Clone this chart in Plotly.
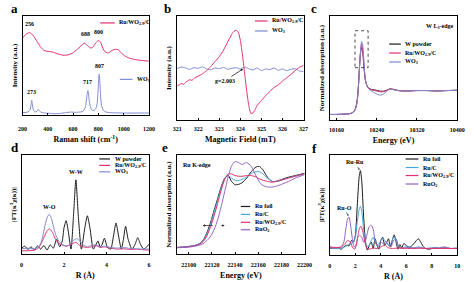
import plotly.graph_objects as go

FONT = "Liberation Serif, Times New Roman, serif"
PINK = "#E3306E"
WO3C = "#7F8ACF"
BLACK = "#1c1c1c"
RUC = "#47A7DB"
RUO2 = "#9064C2"

RUWO = "Ru/WO<sub>2.9</sub>/C"
WO3 = "WO<sub>3</sub>"

# ---------------- panel a : Raman ----------------
a_ru_x = [200, 215, 230, 245, 256, 270, 290, 315, 340, 365, 392, 420, 444, 480, 520, 560, 597, 630, 662, 675, 688, 705, 720, 740, 755, 775, 790, 803, 818, 835, 854, 879, 905, 931, 956, 980, 1008, 1040, 1085, 1140, 1200]
a_ru_y = [235, 242, 248, 251, 252, 249, 240, 225, 210, 199, 195, 194, 192, 187, 183, 184, 190, 200, 211, 217, 220, 216, 210, 205, 207, 218, 225, 228, 222, 205, 193, 190, 197, 201, 200, 190, 181, 175, 170, 167, 165]
a_wo_x = [200, 230, 250, 260, 266, 270, 273, 276, 281, 290, 300, 315, 325, 335, 350, 380, 420, 460, 500, 540, 580, 620, 650, 670, 685, 695, 703, 710, 714, 717, 720, 724, 730, 740, 752, 765, 780, 790, 797, 802, 805, 807, 809, 812, 817, 825, 840, 860, 900, 1000, 1100, 1200]
a_wo_y = [7, 8, 11, 16, 27, 38, 45, 38, 24, 12, 9, 12, 17, 12, 8, 6, 5, 4, 5, 7, 9, 8, 9, 10, 14, 22, 38, 60, 72, 75, 72, 58, 38, 22, 14, 14, 20, 35, 70, 108, 122, 125, 120, 100, 62, 30, 14, 9, 7, 6, 6, 6]
a_peak_x = [256, 700, 803, 272, 716, 808]
a_peak_y = [262, 232, 238, 55, 86, 136]
a_peak_t = ["256", "688", "800", "273", "717", "807"]

# ---------------- panel b : EPR ----------------
b_ru_x = [321.0, 321.1, 321.2, 321.3, 321.4, 321.5, 321.6, 321.7, 321.8, 321.9, 322.0, 322.2, 322.4, 322.6, 322.8, 323.0, 323.2, 323.4, 323.5, 323.6, 323.7, 323.8, 323.9, 324.0, 324.1, 324.2, 324.3, 324.4, 324.5, 324.6, 324.7, 324.8, 325.0, 325.2, 325.4, 325.6, 325.8, 326.0, 326.2, 326.4, 326.6, 326.8, 327.0]
b_ru_y = [105, 108, 112, 110, 116, 120, 124, 122, 128, 132, 135, 142, 152, 165, 180, 195, 215, 240, 252, 265, 273, 276, 270, 245, 200, 145, 90, 45, 20, 22, 32, 45, 60, 75, 88, 100, 108, 120, 130, 140, 152, 162, 168]
b_wo_x = [321.0, 321.2, 321.4, 321.6, 321.8, 322.0, 322.2, 322.4, 322.6, 322.8, 323.0, 323.2, 323.4, 323.6, 323.8, 324.0, 324.2, 324.4, 324.6, 324.8, 325.0, 325.2, 325.4, 325.6, 325.8, 326.0, 326.2, 326.4, 326.6, 326.8, 327.0]
b_wo_y = [158, 163, 160, 156, 161, 159, 163, 157, 155, 160, 158, 162, 156, 159, 161, 157, 163, 158, 154, 160, 152, 157, 155, 160, 153, 157, 152, 156, 158, 151, 149]

# ---------------- panel c : W L3-edge XANES ----------------
c_x = [10147, 10160, 10175, 10185, 10190, 10194, 10197, 10200, 10202, 10204, 10206, 10208, 10210, 10212, 10214, 10216, 10218, 10221, 10225, 10230, 10236, 10242, 10248, 10254, 10260, 10266, 10272, 10280, 10290, 10305, 10320, 10340, 10360, 10380, 10400]
c_w = [17, 17, 18, 19, 21, 25, 32, 48, 70, 110, 165, 205, 222, 212, 175, 140, 118, 104, 97, 93, 92, 90, 88, 88, 91, 95, 94, 91, 89, 89, 90, 90, 89, 90, 91]
c_ru = [17, 17, 18, 19, 21, 25, 31, 46, 68, 108, 165, 210, 233, 222, 185, 145, 120, 104, 96, 92, 90, 88, 86, 87, 90, 95, 94, 91, 89, 89, 90, 90, 89, 90, 91]
c_wo = [17, 17, 18, 19, 21, 24, 30, 44, 65, 105, 160, 212, 240, 232, 195, 150, 120, 102, 94, 88, 83, 78, 76, 80, 88, 94, 93, 90, 89, 89, 90, 90, 89, 90, 91]

# ---------------- panel d : W EXAFS ----------------
d_w_x = [0.0, 0.15, 0.3, 0.45, 0.6, 0.75, 0.9, 1.05, 1.2, 1.35, 1.5, 1.65, 1.8, 1.92, 2.0, 2.1, 2.2, 2.33, 2.45, 2.56, 2.67, 2.82, 2.98, 3.1, 3.22, 3.38, 3.5, 3.6, 3.7, 3.8, 3.9, 4.05, 4.2, 4.33, 4.45, 4.57, 4.7, 4.8, 4.9, 5.02, 5.2, 5.35, 5.47, 5.6, 5.75, 5.9, 6.0]
d_w_y = [18, 24, 14, 22, 12, 25, 15, 26, 12, 28, 18, 45, 22, 40, 80, 102, 70, 15, 120, 227, 120, 15, 80, 117, 80, 15, 28, 40, 22, 30, 48, 20, 15, 55, 95, 55, 15, 45, 85, 45, 15, 30, 50, 30, 15, 22, 30]
d_ru_x = [0, 0.3, 0.6, 0.8, 0.95, 1.1, 1.2, 1.3, 1.4, 1.5, 1.6, 1.75, 1.9, 2.1, 2.3, 2.5, 2.6, 2.75, 2.9, 3.1, 3.3, 3.5, 3.7, 3.9, 4.2, 4.5, 4.8, 5.1, 5.4, 5.7, 6.0]
d_ru_y = [10, 10, 12, 18, 35, 58, 70, 77, 72, 60, 45, 32, 28, 24, 28, 35, 34, 26, 22, 20, 22, 26, 20, 22, 18, 15, 16, 14, 15, 13, 12]
d_wo_x = [0, 0.3, 0.6, 0.8, 0.95, 1.05, 1.15, 1.25, 1.32, 1.4, 1.5, 1.6, 1.75, 1.9, 2.1, 2.3, 2.45, 2.6, 2.75, 2.9, 3.1, 3.3, 3.5, 3.7, 3.9, 4.2, 4.5, 4.8, 5.1, 5.4, 5.7, 6.0]
d_wo_y = [16, 18, 16, 22, 40, 70, 100, 118, 120, 110, 85, 60, 40, 30, 24, 30, 42, 47, 40, 28, 22, 26, 28, 22, 24, 20, 18, 20, 17, 16, 15, 15]

# ---------------- panel e : Ru K-edge XANES ----------------
e_x = [22090, 22100, 22106, 22110, 22113, 22116, 22119, 22122, 22125, 22128, 22131, 22134, 22137, 22140, 22143, 22146, 22150, 22154, 22158, 22161, 22164, 22168, 22172, 22176, 22180, 22186, 22192, 22200]
e_foil = [20, 23, 27, 33, 45, 68, 98, 135, 170, 205, 232, 240, 222, 212, 213, 218, 232, 252, 266, 268, 258, 235, 222, 223, 228, 235, 240, 247]
e_ruc = [20, 23, 27, 33, 43, 63, 92, 128, 165, 202, 230, 240, 232, 226, 225, 228, 236, 246, 252, 252, 246, 232, 222, 222, 226, 233, 238, 245]
e_ruwo = [20, 22, 26, 31, 40, 58, 85, 118, 155, 195, 228, 245, 245, 240, 238, 238, 240, 240, 236, 230, 226, 222, 220, 222, 226, 232, 238, 246]
e_ruo2 = [19, 21, 24, 28, 33, 42, 55, 75, 105, 145, 190, 235, 270, 283, 280, 274, 280, 268, 240, 220, 210, 205, 205, 208, 213, 222, 232, 243]

# ---------------- panel f : Ru EXAFS ----------------
f_foil_x = [0, 0.3, 0.6, 0.9, 1.1, 1.3, 1.5, 1.7, 1.85, 2.0, 2.15, 2.3, 2.4, 2.5, 2.65, 2.8, 2.95, 3.1, 3.25, 3.4, 3.55, 3.7, 3.85, 4.0, 4.15, 4.3, 4.45, 4.6, 4.75, 4.9, 5.05, 5.2, 5.35, 5.5, 5.65, 5.8, 6.0, 6.2, 6.4, 6.6, 6.8, 6.95, 7.1, 7.3, 7.5, 7.8, 8.2, 8.6, 9.0, 9.5, 10]
f_foil_y = [22, 20, 22, 18, 25, 30, 28, 45, 40, 60, 150, 240, 260, 230, 120, 40, 15, 30, 40, 20, 50, 30, 18, 45, 55, 30, 38, 50, 25, 45, 62, 40, 18, 32, 22, 35, 30, 20, 28, 35, 45, 50, 42, 28, 20, 18, 22, 20, 22, 20, 21]
f_ruc_x = [0, 0.5, 1.0, 1.3, 1.6, 1.85, 2.0, 2.15, 2.3, 2.4, 2.5, 2.65, 2.8, 3.0, 3.2, 3.4, 3.6, 3.8, 4.0, 4.2, 4.4, 4.6, 4.8, 5.0, 5.2, 5.4, 5.7, 6.0, 6.5, 7.0, 7.5, 8, 9, 10]
f_ruc_y = [22, 20, 22, 28, 35, 40, 55, 100, 140, 150, 135, 80, 35, 25, 40, 55, 35, 25, 45, 50, 40, 30, 35, 55, 50, 25, 20, 28, 22, 25, 20, 22, 20, 21]
f_ruwo_x = [0, 0.5, 0.9, 1.2, 1.4, 1.6, 1.8, 1.95, 2.1, 2.25, 2.35, 2.45, 2.6, 2.75, 2.9, 3.1, 3.4, 3.7, 4.0, 4.3, 4.6, 5.0, 5.4, 6, 7, 8, 9, 10]
f_ruwo_y = [25, 23, 25, 35, 45, 40, 22, 18, 35, 70, 85, 88, 70, 40, 22, 18, 22, 20, 25, 30, 22, 20, 22, 20, 21, 20, 20, 20]
f_ruo2_x = [0, 0.5, 0.9, 1.1, 1.25, 1.4, 1.5, 1.6, 1.75, 1.9, 2.05, 2.2, 2.35, 2.5, 2.65, 2.8, 2.95, 3.1, 3.25, 3.4, 3.55, 3.7, 3.85, 4.0, 4.2, 4.4, 4.6, 4.8, 5.0, 5.2, 5.4, 5.6, 5.9, 6.2, 6.6, 7.0, 7.5, 8, 8.5, 9, 9.5, 10]
f_ruo2_y = [22, 22, 25, 40, 80, 112, 117, 100, 55, 25, 30, 55, 60, 55, 40, 45, 70, 88, 92, 80, 45, 30, 35, 40, 35, 42, 30, 25, 45, 48, 25, 20, 22, 25, 20, 22, 20, 21, 22, 25, 20, 20]

# ---------------- layout helpers ----------------
W, H = 474, 282
boxes = {1: (18, 16, 148, 115), 2: (177, 16, 307, 120), 3: (334, 16, 465, 120),
         4: (17, 155, 148, 254), 5: (177, 155, 308, 254), 6: (334, 155, 465, 255)}
x_ranges = {1: [200, 1200], 2: [321, 327], 3: [10147, 10400], 4: [0, 6], 5: [22090, 22200], 6: [0, 10]}
y_ranges = {1: [0, 303], 2: [0, 320], 3: [0, 318], 4: [0, 303], 5: [0, 303], 6: [0, 308]}
x_ticks = {1: [200, 400, 600, 800, 1000, 1200], 2: [321, 322, 323, 324, 325, 326, 327],
           3: [10160, 10240, 10320, 10400], 4: [0, 2, 4, 6],
           5: [22100, 22120, 22140, 22160, 22180, 22200], 6: [0, 2, 4, 6, 8, 10]}
tick_standoff = {1: 8, 2: 3, 3: 4, 4: 5, 5: 5, 6: 5}
x_titles = {1: "Raman shift (cm<sup>-1</sup>)", 2: "Magnetic Field (mT)", 3: "Energy (eV)",
            4: "R (Å)", 5: "Energy (eV)", 6: "R (Å)"}
y_titles = {1: "Intensity (a.u.)", 2: "Intensity (a.u.)", 3: "Normalized absorption (a.u.)",
            4: "|FT(κ<sup>3</sup>χ(κ))|", 5: "Normalized absorption (a.u.)", 6: "|FT(κ<sup>3</sup>χ(κ))|"}

fig = go.Figure()


def ax(i):
    return ("x" if i == 1 else f"x{i}"), ("y" if i == 1 else f"y{i}")


def add(i, x, y, color, width=1.0):
    xa, ya = ax(i)
    fig.add_trace(go.Scatter(x=x, y=y, mode="lines", xaxis=xa, yaxis=ya, showlegend=False,
                             line=dict(color=color, width=width, shape="spline", smoothing=0.6),
                             hoverinfo="skip"))


add(1, a_ru_x, a_ru_y, PINK)
add(1, a_wo_x, a_wo_y, WO3C)
add(2, b_wo_x, b_wo_y, WO3C)
add(2, b_ru_x, b_ru_y, PINK)
add(3, c_x, c_w, BLACK)
add(3, c_x, c_ru, PINK)
add(3, c_x, c_wo, WO3C)
add(4, d_w_x, d_w_y, BLACK)
add(4, d_ru_x, d_ru_y, PINK)
add(4, d_wo_x, d_wo_y, WO3C)
add(5, e_x, e_foil, BLACK)
add(5, e_x, e_ruc, RUC)
add(5, e_x, e_ruwo, PINK)
add(5, e_x, e_ruo2, RUO2)
add(6, f_foil_x, f_foil_y, BLACK)
add(6, f_ruc_x, f_ruc_y, RUC)
add(6, f_ruo2_x, f_ruo2_y, RUO2)
add(6, f_ruwo_x, f_ruwo_y, PINK)

layout = dict(width=W, height=H, margin=dict(l=0, r=0, t=0, b=0),
              paper_bgcolor="white", plot_bgcolor="white",
              font=dict(family=FONT, color="black", size=6))
for i, (l, t, r, b) in boxes.items():
    xa, ya = ax(i)
    xk = "xaxis" if i == 1 else f"xaxis{i}"
    yk = "yaxis" if i == 1 else f"yaxis{i}"
    layout[xk] = dict(domain=[l / W, r / W], anchor=ya, range=x_ranges[i], tickvals=x_ticks[i],
                      ticktext=[f"<b>{v}</b>" for v in x_ticks[i]],
                      showline=True, mirror=True, linecolor="black", linewidth=1,
                      ticks="inside", ticklen=2.5, tickwidth=0.8, tickcolor="black",
                      showgrid=False, zeroline=False,
                      tickfont=dict(size=6, family=FONT),
                      ticklabelstandoff=tick_standoff[i],
                      title=dict(text=f"<b>{x_titles[i]}</b>", font=dict(size=8, family=FONT), standoff=5))
    layout[yk] = dict(domain=[1 - b / H, 1 - t / H], anchor=xa, range=y_ranges[i],
                      showline=True, mirror=True, linecolor="black", linewidth=1,
                      showticklabels=False, ticks="", showgrid=False, zeroline=False,
                      title=dict(text=f"<b>{y_titles[i]}</b>", font=dict(size=7, family=FONT), standoff=3))
fig.update_layout(**layout)

annotations = []
shapes = []

# panel letters
letters = [("a", 10, 8), ("b", 167, 8), ("c", 318, 9), ("d", 10, 147), ("e", 164, 147), ("f", 318, 148)]
for s, px, py in letters:
    annotations.append(dict(text=f"<b>{s}</b>", x=px / W, y=1 - py / H, xref="paper", yref="paper",
                            showarrow=False, font=dict(size=13, family=FONT), xanchor="center", yanchor="middle"))

# peak labels in a
for px_, py_, t_ in zip(a_peak_x, a_peak_y, a_peak_t):
    annotations.append(dict(text=f"<b>{t_}</b>", x=px_, y=py_, xref="x", yref="y", showarrow=False,
                            font=dict(size=6, family=FONT), yanchor="bottom"))

# g-value in b
annotations.append(dict(text="<b>g=2.003</b>", x=324.12, y=157, ax=323.25, ay=120, xref="x2", yref="y2",
                        axref="x2", ayref="y2", showarrow=True, arrowhead=2, arrowsize=0.6, arrowwidth=0.7,
                        arrowcolor="black", font=dict(size=6, family=FONT)))

# c: edge label and dashed box
annotations.append(dict(text="<b>W L<sub>3</sub>-edge</b>", x=0.985, y=0.95, xref="x3 domain", yref="y3 domain",
                        showarrow=False, xanchor="right", yanchor="top", font=dict(size=6, family=FONT)))
shapes.append(dict(type="rect", x0=10197, x1=10223, y0=160, y1=273, xref="x3", yref="y3",
                   line=dict(color="#333", width=0.9, dash="dot")))

# d bond labels
annotations.append(dict(text="<b>W-O</b>", x=1.3, y=128, xref="x4", yref="y4", showarrow=False,
                        yanchor="bottom", font=dict(size=6, family=FONT)))
annotations.append(dict(text="<b>W-W</b>", x=2.56, y=236, xref="x4", yref="y4", showarrow=False,
                        yanchor="bottom", font=dict(size=6, family=FONT)))

# e label and E0 shift arrow (dashed line with heads)
annotations.append(dict(text="<b>Ru K-edge</b>", x=0.03, y=0.95, xref="x5 domain", yref="y5 domain",
                        showarrow=False, xanchor="left", yanchor="top", font=dict(size=6, family=FONT)))
shapes.append(dict(type="line", x0=22113, x1=22130, y0=87, y1=87, xref="x5", yref="y5",
                   line=dict(color="#333", width=0.8, dash="dash")))
annotations.append(dict(text="", x=22131, y=87, ax=22127, ay=87, xref="x5", yref="y5", axref="x5", ayref="y5",
                        showarrow=True, arrowhead=2, arrowsize=0.6, arrowwidth=0.8, arrowcolor="#333"))
annotations.append(dict(text="", x=22112, y=87, ax=22116, ay=87, xref="x5", yref="y5", axref="x5", ayref="y5",
                        showarrow=True, arrowhead=2, arrowsize=0.6, arrowwidth=0.8, arrowcolor="#333"))

# f bond labels
annotations.append(dict(text="<b>Ru-Ru</b>", x=2.33, y=262, ax=1.95, ay=285, xref="x6", yref="y6",
                        axref="x6", ayref="y6", showarrow=True, arrowhead=2, arrowsize=0.5, arrowwidth=0.7,
                        font=dict(size=6, family=FONT)))
annotations.append(dict(text="<b>Ru-O</b>", x=1.45, y=120, ax=1.15, ay=145, xref="x6", yref="y6",
                        axref="x6", ayref="y6", showarrow=True, arrowhead=2, arrowsize=0.5, arrowwidth=0.7,
                        font=dict(size=6, family=FONT)))

# legends (key line + label), positioned in each panel's domain
legends = {
    1: [(RUWO, PINK, 0.615, 0.73, 0.93), (WO3, WO3C, 0.77, 0.87, 0.36)],
    2: [(RUWO, PINK, 0.615, 0.715, 0.952), (WO3, WO3C, 0.615, 0.715, 0.856)],
    3: [("W powder", BLACK, 0.466, 0.557, 0.73), (RUWO, PINK, 0.466, 0.557, 0.644), (WO3, WO3C, 0.466, 0.557, 0.558)],
    4: [("W powder", BLACK, 0.61, 0.695, 0.96), (RUWO, PINK, 0.61, 0.695, 0.895), (WO3, WO3C, 0.61, 0.695, 0.83)],
    5: [("Ru foil", BLACK, 0.50, 0.573, 0.48), ("Ru/C", RUC, 0.50, 0.573, 0.40), (RUWO, PINK, 0.50, 0.573, 0.32),
        ("RuO<sub>2</sub>", RUO2, 0.50, 0.573, 0.245)],
    6: [("Ru foil", BLACK, 0.595, 0.695, 0.96), ("Ru/C", RUC, 0.595, 0.695, 0.875), (RUWO, PINK, 0.595, 0.695, 0.795),
        ("RuO<sub>2</sub>", RUO2, 0.595, 0.695, 0.71)],
}
for i, items in legends.items():
    xa, ya = ax(i)
    for name, col, x0, x1, yy in items:
        shapes.append(dict(type="line", x0=x0, x1=x1, y0=yy, y1=yy, xref=f"{xa} domain", yref=f"{ya} domain",
                           line=dict(color=col, width=1.2)))
        annotations.append(dict(text=f"<b>{name}</b>", x=x1 + 0.02, y=yy, xref=f"{xa} domain", yref=f"{ya} domain",
                                showarrow=False, xanchor="left", yanchor="middle", font=dict(size=6, family=FONT)))

fig.update_layout(annotations=annotations, shapes=shapes)
fig.write_html("out.html")
